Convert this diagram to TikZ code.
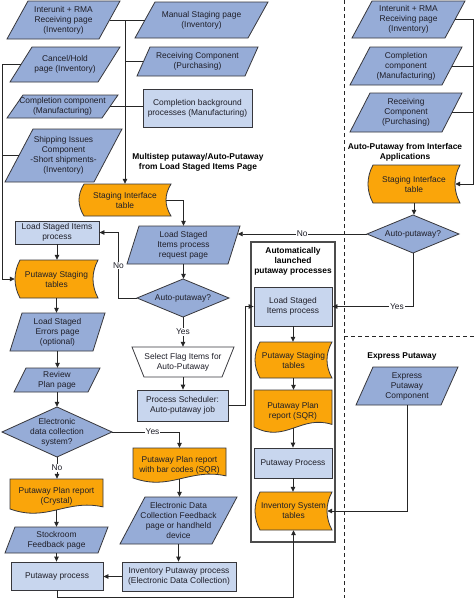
\documentclass[tikz,border=0pt]{standalone}
\usepackage{fontspec}
\setmainfont{Liberation Sans}
\usetikzlibrary{arrows.meta,calc}
\definecolor{pblue}{RGB}{150,172,215}
\definecolor{lblue}{RGB}{200,214,238}
\definecolor{orng}{RGB}{250,165,10}
\definecolor{edge}{RGB}{55,55,60}
\definecolor{txtc}{RGB}{30,30,40}
\tikzset{
 shapeline/.style={draw=edge, line width=0.8pt},
 txt/.style={inner sep=0pt, align=center, text=txtc, font=\fontsize{8.4}{10}\selectfont},
 btxt/.style={inner sep=0pt, align=center, text=black, font=\bfseries\fontsize{8.4}{10}\selectfont},
 conn/.style={draw=black!85, line width=0.8pt},
 arr/.style={conn, -{Triangle[length=5pt,width=4.5pt]}},
 lbl/.style={fill=white, inner sep=0.8pt, text=txtc, font=\fontsize{8.4}{10}\selectfont},
 rectbox/.style={txt, shapeline, fill=lblue},
 dsh/.style={draw=black!85, line width=0.9pt, dash pattern=on 4pt off 3pt},
}
% parallelogram: name x1 y1 x2 y2 slant text
\newcommand\pgram[7]{%
 \filldraw[shapeline, fill=pblue] (#2+#6,#3) -- (#4,#3) -- (#4-#6,#5) -- (#2,#5) -- cycle;
 \node[txt, minimum width={(#4-#2)*1pt}, minimum height={(#5-#3)*1pt}] (#1) at ({(#2+#4)/2},{(#3+#5)/2}) {#7};}
% rectangle: name x1 y1 x2 y2 text
\newcommand\rbox[6]{%
 \node[rectbox, minimum width={(#4-#2)*1pt}, minimum height={(#5-#3)*1pt}] (#1) at ({(#2+#4)/2},{(#3+#5)/2}) {#6};}
% stored data: name x1 y1 x2 y2 text
\newcommand\stored[6]{%
 \filldraw[shapeline, fill=orng] (#2+5,#3) -- (#4,#3)
   .. controls ({#4-6.67},{#3+(#5-#3)/3}) and ({#4-6.67},{#5-(#5-#3)/3}) .. (#4,#5)
   -- (#2+5,#5)
   .. controls ({#2-1.67},{#5-(#5-#3)/3}) and ({#2-1.67},{#3+(#5-#3)/3}) .. (#2+5,#3) -- cycle;
 \node[txt, minimum width={(#4-#2)*1pt}, minimum height={(#5-#3)*1pt}] (#1) at ({(#2+#4)/2},{(#3+#5)/2}) {#6};}
% document: name x1 y1 x2 y2 text
\newcommand\docshape[6]{%
 \filldraw[shapeline, fill=orng] (#2,#3) -- (#4,#3) -- (#4,{#5-0.18*(#5-#3)})
   .. controls ({#2+0.6*(#4-#2)},{#5-0.42*(#5-#3)}) and ({#2+0.4*(#4-#2)},{#5+0.28*(#5-#3)}) .. (#2,{#5-0.12*(#5-#3)}) -- cycle;
 \node[txt, minimum width={(#4-#2)*1pt}, minimum height={(#5-#3)*1pt}] (#1) at ({(#2+#4)/2},{(#3+#5)/2}) {#6};}
% diamond: name cx cy w h text
\newcommand\dmnd[6]{%
 \filldraw[shapeline, fill=pblue] ({#2-#4/2},#3) -- (#2,{#3-#5/2}) -- ({#2+#4/2},#3) -- (#2,{#3+#5/2}) -- cycle;
 \node[txt, minimum width=#4pt, minimum height=#5pt] (#1) at (#2,#3) {#6};}
\begin{document}
\begin{tikzpicture}[x=1pt,y=-1pt]
\useasboundingbox (0,0) rectangle (474,598);
\fill[white] (0,0) rectangle (474,598);
% separators
\draw[dsh] (344,0) -- (344,598);
\draw[dsh] (344,336) -- (474,336);
% automatically launched box
\node[draw=black!70, line width=1.2pt, fill=white, minimum width=84pt, minimum height=300pt, inner sep=0pt] (autoBox) at (293,392) {};
\node[btxt] (autoTitle) at (293,261) {Automatically\\launched\\putaway processes};
% top-left sources
\pgram{intL}{7}{1}{120}{39}{21}{Interunit + RMA\\Receiving page\\(Inventory)}
\pgram{manual}{135}{2}{268}{38}{20}{Manual Staging page\\(Inventory)}
\pgram{cancel}{10}{47}{120}{82}{22}{Cancel/Hold\\page (Inventory)}
\pgram{recvL}{137}{47}{258}{76}{13}{Receiving Component\\(Purchasing)}
\pgram{complL}{7}{95}{118}{118}{16}{Completion component\\(Manufacturing)}
\rbox{complbg}{143}{89}{252}{127}{Completion background\\processes (Manufacturing)}
\pgram{ship}{5}{129}{122}{182}{28}{Shipping Issues\\Component\\-Short shipments-\\(Inventory)}
\node[btxt] (multiLbl) at (198,162) {Multistep putaway/Auto-Putaway\\from Load Staged Items Page};
\stored{stagL}{79}{184}{171}{216}{Staging Interface\\table}
% middle column
\pgram{loadReq}{127}{226}{240}{264}{12}{Load Staged\\Items process\\request page}
\dmnd{diaL}{183}{298}{92}{38}{Auto-putaway?}
\filldraw[shapeline, fill=white] (132,347) -- (234,347) -- (222,377) -- (144,377) -- cycle;
\node[txt, minimum width=102pt, minimum height=30pt] (selFlag) at (183,362) {Select Flag Items for\\Auto-Putaway};
\rbox{procSch}{137}{390}{228}{421}{Process Scheduler:\\Auto-putaway job}
% left column
\rbox{loadL}{15}{221}{99}{244}{Load Staged Items\\process}
\stored{putSL}{15}{260}{98}{298}{Putaway Staging\\tables}
\pgram{errors}{10}{313}{105}{351}{12}{Load Staged\\Errors page\\(optional)}
\pgram{review}{14}{368}{100}{392}{12}{Review\\Plan page}
\dmnd{diaE}{57}{432}{110}{50}{Electronic\\data collection\\system?}
\docshape{crystal}{10}{479}{103}{513}{Putaway Plan report\\(Crystal)}
\pgram{stock}{5}{527}{108}{553}{10}{Stockroom\\Feedback page}
\rbox{putL}{11}{562}{103}{590}{Putaway process}
\docshape{barcode}{133}{448}{226}{482}{Putaway Plan report\\with bar codes (SQR)}
\pgram{edc}{120}{497}{237}{544}{25}{Electronic Data\\Collection Feedback\\page or handheld\\device}
\rbox{invPut}{122}{562}{236}{591}{Inventory Putaway process\\(Electronic Data Collection)}
% automatically launched processes
\rbox{loadR}{254}{287}{332}{326}{Load Staged\\Items process}
\stored{putSR}{255}{342}{332}{378}{Putaway Staging\\tables}
\docshape{planSQR}{254}{390}{332}{432}{Putaway Plan\\report (SQR)}
\rbox{putProc}{254}{448}{332}{478}{Putaway Process}
\stored{invSys}{255}{492}{332}{530}{Inventory System\\tables}
% right section
\pgram{intR}{352}{1}{465}{38}{20}{Interunit + RMA\\Receiving page\\(Inventory)}
\pgram{complR}{350}{47}{462}{85}{20}{Completion\\component\\(Manufacturing)}
\pgram{recvR}{350}{93}{462}{132}{20}{Receiving\\Component\\(Purchasing)}
\node[btxt] (intfLbl) at (405,152) {Auto-Putaway from Interface\\Applications};
\stored{stagR}{368}{165}{460}{203}{Staging Interface\\table}
\dmnd{diaR}{413}{234}{92}{38}{Auto-putaway?}
\node[btxt] (expLbl) at (402,356) {Express Putaway};
\pgram{express}{356}{367}{458}{405}{17}{Express\\Putaway\\Component}
% ---- connectors ----
\draw[conn] ([xshift=-10.5pt]intL.east) -- ([xshift=10pt]manual.west);
\draw[arr] (intL.east -| stagL.north) -- (stagL.north);
\draw[conn] (recvL.west -| stagL.north) -- ([xshift=6.5pt]recvL.west);
\draw[conn] ([xshift=-8pt]complL.east) -- (complL.east -| complbg.west);
\coordinate (lbus) at ([xshift=-12pt]putSL.west);
\draw[arr] ([xshift=11pt]cancel.west) -| (lbus) -- (putSL.west);
\draw[conn] ([xshift=14pt]ship.west) -- (ship.west -| lbus);
\draw[arr] ([xshift=-5pt]stagL.east) -| (loadReq.north);
\draw[arr] (loadReq.south) -- (loadReq.south |- diaL.north);
\draw[arr] (diaL.west) -| node[lbl, pos=0.75] {No} ([xshift=19pt]loadL.east) -- (loadL.east);
\draw[arr] (diaL.south) -- node[lbl] {Yes} (diaL.south |- selFlag.north);
\draw[arr] (selFlag.south) -- (selFlag.south |- procSch.north);
\draw[arr] (procSch.east) -- ++(17,0) |- (loadR.west);
% right side
\coordinate (rbus) at ([xshift=13pt]stagR.east);
\draw[arr] ([xshift=-10pt]intR.east) -| (rbus) -- ([xshift=-5pt]stagR.east);
\draw[conn] ([xshift=-10pt]complR.east) -- (complR.east -| rbus);
\draw[conn] ([xshift=-10pt]recvR.east) -- (recvR.east -| rbus);
\draw[arr] (stagR.south) -- (stagR.south |- diaR.north);
\draw[arr] (diaR.west) -- node[lbl] {No} ($(diaR.west -| loadReq.east)+(-2.5,0)$);
\draw[arr] (diaR.south) |- node[lbl, pos=0.6] {Yes} (loadR.east);
% inside box
\draw[arr] (loadR.south) -- (loadR.south |- putSR.north);
\draw[arr] (putSR.south) -- (putSR.south |- planSQR.north);
\draw[arr] ([yshift=3.8pt]planSQR.south) -- (planSQR.south |- putProc.north);
\draw[arr] (putProc.south) -- (putProc.south |- invSys.north);
\draw[arr] (express.south) |- ([xshift=-5pt]invSys.east);
% left lower
\draw[arr] (loadL.south) -- (loadL.south |- putSL.north);
\draw[arr] (putSL.south) -- (putSL.south |- errors.north);
\draw[arr] (errors.south) -- (errors.south |- review.north);
\draw[arr] (review.south) -- (review.south |- diaE.north);
\draw[arr] (diaE.east) -| node[lbl, pos=0.3] {Yes} (barcode.north);
\draw[arr] (diaE.south) -- node[lbl] {No} (diaE.south |- crystal.north);
\draw[arr] ([yshift=3pt]crystal.south) -- (crystal.south |- stock.north);
\draw[arr] (stock.south) -- (stock.south |- putL.north);
\draw[arr] ([yshift=3pt]barcode.south) -- (barcode.south |- edc.north);
\draw[arr] (edc.south) -- (edc.south |- invPut.north);
\draw[arr] (invPut.west) -- (invPut.west -| putL.east);
\draw[arr] (putL.south) -- ++(0,7) -| (invSys.south);
\end{tikzpicture}
\end{document}
